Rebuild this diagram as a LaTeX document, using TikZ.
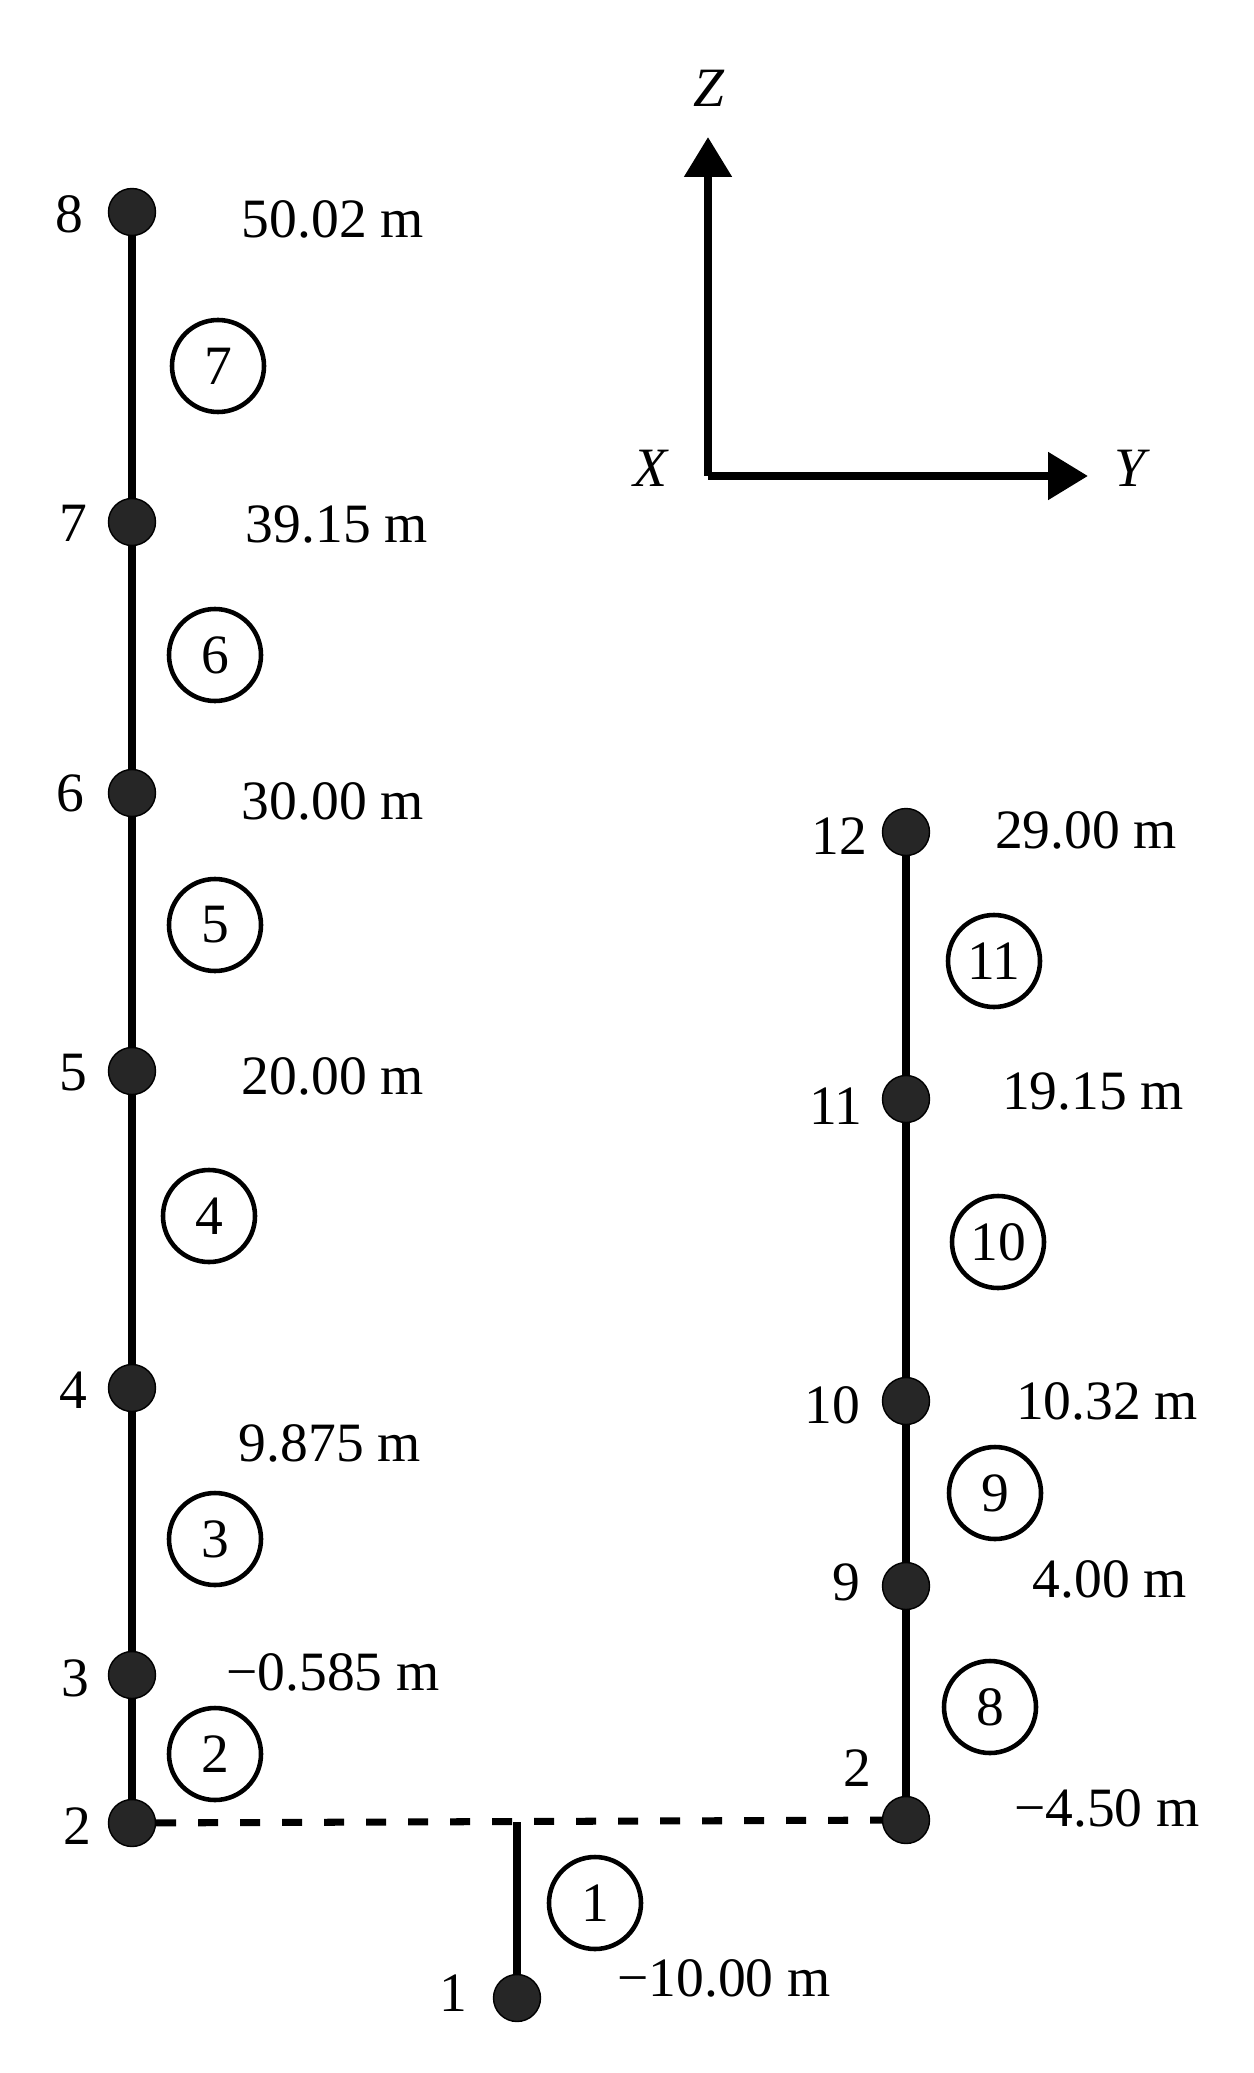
\documentclass[tikz,border=0pt]{standalone}
\usepackage{fontspec}
\setmainfont{Liberation Serif}
\usetikzlibrary{arrows.meta}

\begin{document}
\begin{tikzpicture}[
    every node/.style={font=\fontsize{15.8}{19}\selectfont},
    joint/.style={circle, draw=black, fill=black!85, inner sep=0pt, minimum size=0.47cm},
    member/.style={circle, draw=black, line width=1.3pt, inner sep=0pt, minimum size=0.92cm},
    pipe/.style={line width=2.2pt},
    axis/.style={line width=2.4pt, -{Triangle[length=0.4cm,width=0.46cm]}}
]
        \useasboundingbox (0,0) rectangle (12.54,-20.73);

        % Left tower (joints 2 to 8)
        \node[joint] (l8) at (1.32,-2.12) {};
        \node[joint] (l7) at (1.32,-5.22) {};
        \node[joint] (l6) at (1.32,-7.93) {};
        \node[joint] (l5) at (1.32,-10.71) {};
        \node[joint] (l4) at (1.32,-13.88) {};
        \node[joint] (l3) at (1.32,-16.75) {};
        \node[joint] (l2) at (1.32,-18.23) {};
        \draw[pipe] (l2) -- (l3) -- (l4) -- (l5) -- (l6) -- (l7) -- (l8);

        % Right tower (joints 2, 9 to 12)
        \node[joint] (r12) at (9.06,-8.32) {};
        \node[joint] (r11) at (9.06,-10.99) {};
        \node[joint] (r10) at (9.06,-14.01) {};
        \node[joint] (r9) at (9.06,-15.86) {};
        \node[joint] (r2) at (9.06,-18.20) {};
        \draw[pipe] (r2) -- (r9) -- (r10) -- (r11) -- (r12);

        % Base joint and connection
        \node[joint] (n1) at (5.17,-19.98) {};
        \coordinate (jb) at (5.17,-18.22);
        \draw[line width=2pt, dash pattern=on 0.2cm off 0.22cm] (l2) -- (r2);
        \draw[pipe] (jb) -- (n1);

        % Joint numbers
        \node (t8) at (0.69,-2.14) {8};
        \node (t7) at (0.73,-5.23) {7};
        \node (t6) at (0.70,-7.93) {6};
        \node (t5) at (0.73,-10.73) {5};
        \node (t4) at (0.73,-13.90) {4};
        \node (t3) at (0.75,-16.78) {3};
        \node (t2) at (0.77,-18.26) {2};
        \node (t1) at (4.53,-19.93) {1};
        \node (t12) at (8.39,-8.36) {12};
        \node (t11) at (8.36,-11.06) {11};
        \node (t10) at (8.32,-14.05) {10};
        \node (t9) at (8.46,-15.82) {9};
        \node (t2r) at (8.57,-17.68) {2};

        % Member numbers
        \node[member] (m7) at (2.18,-3.66) {7};
        \node[member] (m6) at (2.15,-6.55) {6};
        \node[member] (m5) at (2.15,-9.25) {5};
        \node[member] (m4) at (2.09,-12.16) {4};
        \node[member] (m3) at (2.15,-15.39) {3};
        \node[member] (m2) at (2.15,-17.54) {2};
        \node[member] (m1) at (5.95,-19.03) {1};
        \node[member] (m11) at (9.94,-9.61) {11};
        \node[member] (m10) at (9.98,-12.42) {10};
        \node[member] (m9) at (9.95,-14.93) {9};
        \node[member] (m8) at (9.90,-17.07) {8};

        % Elevations
        \node (e8) at (3.33,-2.19) {50.02 m};
        \node (e7) at (3.37,-5.25) {39.15 m};
        \node (e6) at (3.33,-8.01) {30.00 m};
        \node (e5) at (3.33,-10.76) {20.00 m};
        \node (e4) at (3.30,-14.43) {9.875 m};
        \node (e3) at (3.33,-16.72) {−0.585 m};
        \node (e1) at (7.24,-19.78) {−10.00 m};
        \node (e12) at (10.86,-8.30) {29.00 m};
        \node (e11) at (10.93,-10.91) {19.15 m};
        \node (e10) at (11.07,-14.01) {10.32 m};
        \node (e9) at (11.10,-15.79) {4.00 m};
        \node (e2) at (11.07,-18.08) {−4.50 m};

        % Axes
        \coordinate (o) at (7.08,-4.76);
        \coordinate (zt) at (7.08,-1.37);
        \coordinate (yt) at (10.88,-4.76);
        \draw[axis] (o) -- (zt);
        \draw[axis] (o) -- (yt);
        \node (zl) at (7.09,-0.88) {\itshape Z};
        \node (xl) at (6.50,-4.68) {\itshape X};
        \node (yl) at (11.30,-4.68) {\itshape Y};
\end{tikzpicture}
\end{document}
